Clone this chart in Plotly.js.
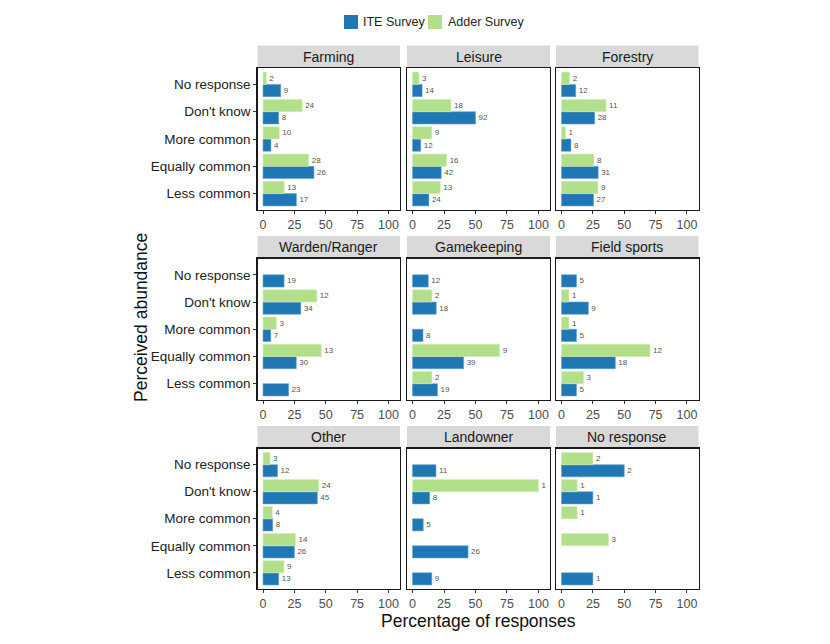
<!DOCTYPE html>
<html>
<head>
<meta charset="utf-8">
<script src="https://cdn.plot.ly/plotly-3.0.1.min.js"></script>
<style>html,body{margin:0;padding:0;background:#fff}#chart{width:830px;height:644px}</style>
</head>
<body>
<div id="chart"></div>
<script>
// Categories from top to bottom
const categories = ["No response","Don't know","More common","Equally common","Less common"];
const panels = ["Farming","Leisure","Forestry","Warden/Ranger","Gamekeeping","Field sports","Other","Landowner","No response"];
const xTicks = [0,25,50,75,100];
const seriesNames = ["ITE Survey","Adder Survey"];

// ITE Survey: percentage of responses (bar length) and counts (labels), per panel, categories in order above
const itePercent = [
  [14.1,12.5,6.3,40.6,26.6],
  [7.6,50.0,6.5,22.8,13.0],
  [11.3,26.4,7.5,29.2,25.5],
  [16.8,30.1,6.2,26.5,20.4],
  [12.5,18.8,8.3,40.6,19.8],
  [11.9,21.4,11.9,42.9,11.9],
  [11.5,43.3,7.7,25.0,12.5],
  [18.6,13.6,8.5,44.1,15.3],
  [50,25,null,null,25]
];
const iteCount = [
  [9,8,4,26,17],
  [14,92,12,42,24],
  [12,28,8,31,27],
  [19,34,7,30,23],
  [12,18,8,39,19],
  [5,9,5,18,5],
  [12,45,8,26,13],
  [11,8,5,26,9],
  [2,1,null,null,1]
];
// Adder Survey
const adderPercent = [
  [2.6,31.2,13.0,36.4,16.9],
  [5.1,30.5,15.3,27.1,22.0],
  [6.5,35.5,3.2,25.8,29.0],
  [null,42.9,10.7,46.4,null],
  [null,15.4,null,69.2,15.4],
  [null,5.9,5.9,70.6,17.6],
  [5.6,44.4,7.4,25.9,16.7],
  [null,100,null,null,null],
  [25,12.5,12.5,37.5,null]
];
const adderCount = [
  [2,24,10,28,13],
  [3,18,9,16,13],
  [2,11,1,8,9],
  [null,12,3,13,null],
  [null,2,null,9,2],
  [null,1,1,12,3],
  [3,24,4,14,9],
  [null,1,null,null,null],
  [2,1,1,3,null]
];

const W = 830, H = 644;
const colPx = [[257.5,400],[407,550],[556,698.5]];
const rowPx = [[68,210],[258.5,400],[448.5,589]]; // plot area top/bottom
const stripH = 22;
const FONT = "Liberation Sans, Arial, sans-serif";
const ITE_COLOR = "#1f78b4", ADDER_COLOR = "#b2df8a";

const data = [];
const layout = {
  width: W, height: H,
  margin: {l:0,r:0,t:0,b:0},
  paper_bgcolor: "#fff", plot_bgcolor: "#fff",
  font: {family: FONT, size: 13, color: "#333"},
  barmode: "group", bargap: 0.1, bargroupgap: 0,
  showlegend: false,
  shapes: [], annotations: []
};
const catOrder = categories.slice().reverse();
const toStr = a => a.map(v => v == null ? "" : String(v));

panels.forEach((name, k) => {
  const r = Math.floor(k/3), c = k % 3;
  const sfx = k === 0 ? "" : String(k+1);
  const xa = "x" + sfx, ya = "y" + sfx;
  const common = {type: "bar", orientation: "h", xaxis: xa, yaxis: ya, y: categories,
    textposition: "outside", cliponaxis: false, constraintext: "none",
    textfont: {family: FONT, size: 8, color: "#555"}, hoverinfo: "x+y"};
  data.push(Object.assign({}, common, {name: seriesNames[0],
    x: itePercent[k], text: toStr(iteCount[k]), marker: {color: ITE_COLOR, line: {color: "#5fa0cf", width: 0.6}}}));
  data.push(Object.assign({}, common, {name: seriesNames[1],
    x: adderPercent[k], text: toStr(adderCount[k]), marker: {color: ADDER_COLOR, line: {color: "#d2edbb", width: 0.6}}}));

  const [x0, x1] = colPx[c], [yt, yb] = rowPx[r];
  layout["xaxis" + sfx] = {domain: [x0/W, x1/W], anchor: ya, range: [-4.4, 109.2],
    tickvals: xTicks, ticktext: xTicks.map(String), ticks: "outside", ticklen: 3, tickwidth: 1, tickcolor: "#333",
    showgrid: false, zeroline: false, showline: true, mirror: true, linecolor: "#1a1a1a", linewidth: 1.2,
    tickfont: {family: FONT, size: 12.5, color: "#4d4d4d"}, fixedrange: true};
  layout["yaxis" + sfx] = {domain: [1 - yb/H, 1 - yt/H], anchor: xa, type: "category",
    categoryorder: "array", categoryarray: catOrder, range: [-0.6, 4.6],
    ticks: c === 0 ? "outside" : "", ticklen: 3, tickwidth: 1, tickcolor: "#333",
    showticklabels: c === 0, showgrid: false, zeroline: false, showline: true, mirror: true,
    linecolor: "#1a1a1a", linewidth: 1.2, tickfont: {family: FONT, size: 13.5, color: "#222"}, fixedrange: true};

  // strip
  layout.shapes.push({type: "rect", xref: "paper", yref: "paper", x0: x0/W, x1: x1/W,
    y0: 1 - (yt - 0.5)/H, y1: 1 - (yt - 0.5 - stripH)/H, fillcolor: "#d9d9d9", line: {width: 0}, layer: "below"});
  layout.annotations.push({xref: "paper", yref: "paper", x: (x0 + x1)/2/W, y: 1 - (yt - 0.5 - stripH/2)/H,
    text: name, showarrow: false, xanchor: "center", yanchor: "middle",
    font: {family: FONT, size: 14, color: "#1a1a1a"}});
});

// legend drawn as keys + labels
const legendKeys = [{x: 344, color: ITE_COLOR, tx: 361}, {x: 428, color: ADDER_COLOR, tx: 446}];
legendKeys.forEach((lk, i) => {
  layout.shapes.push({type: "rect", xref: "paper", yref: "paper", x0: lk.x/W, x1: (lk.x + 14)/W,
    y0: 1 - 29/H, y1: 1 - 15/H, fillcolor: lk.color, line: {width: 0}});
  layout.annotations.push({xref: "paper", yref: "paper", x: lk.tx/W, y: 1 - 22/H, text: seriesNames[i],
    showarrow: false, xanchor: "left", yanchor: "middle", font: {family: FONT, size: 12.5, color: "#222"}});
});

layout.annotations.push({xref: "paper", yref: "paper", x: 478/W, y: 1 - 621/H,
  text: "Percentage of responses", showarrow: false, xanchor: "center", yanchor: "middle",
  font: {family: FONT, size: 17.5, color: "#111"}});
layout.annotations.push({xref: "paper", yref: "paper", x: 141/W, y: 1 - 318/H,
  text: "Perceived abundance", showarrow: false, textangle: -90, xanchor: "center", yanchor: "middle",
  font: {family: FONT, size: 17.5, color: "#111"}});

Plotly.newPlot("chart", data, layout, {displayModeBar: false, staticPlot: true});
</script>
</body>
</html>
